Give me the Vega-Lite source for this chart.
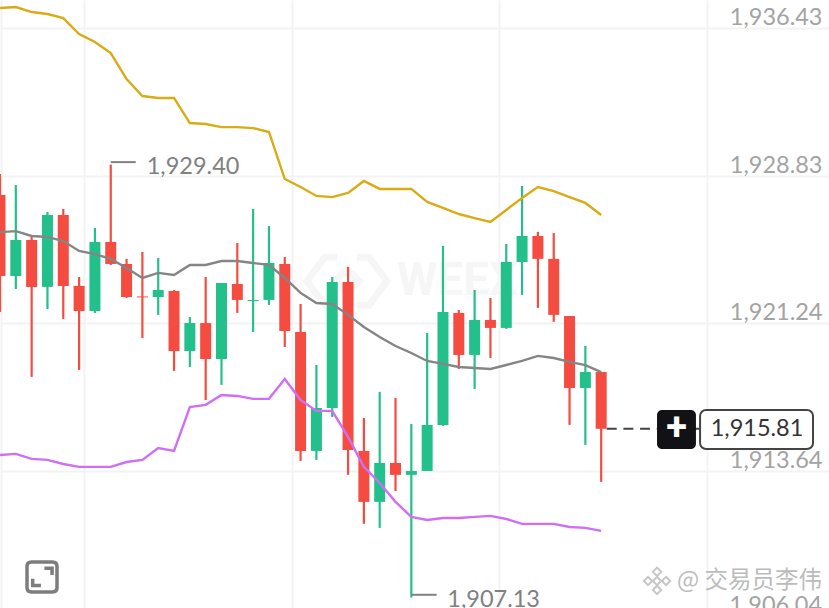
{
  "$schema": "https://vega.github.io/schema/vega-lite/v6.json",
  "width": 829,
  "height": 608,
  "padding": 0,
  "autosize": {"type": "none"},
  "background": "#ffffff",
  "config": {"view": {"stroke": null}, "axis": {"title": null}},
  "datasets": {
    "candles": [
      {"i":0,"open":1927.84,"high":1928.92,"low":1921.82,"close":1923.67,"side":"down"},
      {"i":1,"open":1923.67,"high":1928.35,"low":1923.00,"close":1925.52,"side":"up"},
      {"i":2,"open":1925.52,"high":1925.68,"low":1918.48,"close":1923.11,"side":"down"},
      {"i":3,"open":1923.11,"high":1926.96,"low":1921.97,"close":1926.81,"side":"up"},
      {"i":4,"open":1926.81,"high":1927.12,"low":1921.46,"close":1923.16,"side":"down"},
      {"i":5,"open":1923.16,"high":1923.62,"low":1918.84,"close":1921.87,"side":"down"},
      {"i":6,"open":1921.87,"high":1926.14,"low":1921.77,"close":1925.42,"side":"up"},
      {"i":7,"open":1925.42,"high":1929.40,"low":1924.24,"close":1924.29,"side":"down"},
      {"i":8,"open":1924.29,"high":1924.55,"low":1922.54,"close":1922.59,"side":"down"},
      {"i":9,"open":1922.62,"high":1924.91,"low":1920.48,"close":1922.57,"side":"down"},
      {"i":10,"open":1922.59,"high":1924.60,"low":1921.67,"close":1922.95,"side":"up"},
      {"i":11,"open":1922.90,"high":1922.95,"low":1918.79,"close":1919.81,"side":"down"},
      {"i":12,"open":1919.81,"high":1921.56,"low":1918.99,"close":1921.25,"side":"up"},
      {"i":13,"open":1921.25,"high":1923.62,"low":1917.29,"close":1919.40,"side":"down"},
      {"i":14,"open":1919.40,"high":1923.31,"low":1918.07,"close":1923.31,"side":"up"},
      {"i":15,"open":1923.26,"high":1925.37,"low":1921.77,"close":1922.44,"side":"down"},
      {"i":16,"open":1922.39,"high":1927.12,"low":1920.79,"close":1922.44,"side":"up"},
      {"i":17,"open":1922.44,"high":1926.24,"low":1922.18,"close":1924.34,"side":"up"},
      {"i":18,"open":1924.29,"high":1924.65,"low":1920.02,"close":1920.84,"side":"down"},
      {"i":19,"open":1920.79,"high":1922.23,"low":1914.16,"close":1914.67,"side":"down"},
      {"i":20,"open":1914.67,"high":1919.09,"low":1914.21,"close":1916.88,"side":"up"},
      {"i":21,"open":1916.88,"high":1923.62,"low":1916.42,"close":1923.36,"side":"up"},
      {"i":22,"open":1923.36,"high":1924.14,"low":1913.44,"close":1914.72,"side":"down"},
      {"i":23,"open":1914.67,"high":1916.37,"low":1910.92,"close":1912.05,"side":"down"},
      {"i":24,"open":1912.05,"high":1917.71,"low":1910.71,"close":1914.05,"side":"up"},
      {"i":25,"open":1914.05,"high":1917.40,"low":1912.61,"close":1913.44,"side":"down"},
      {"i":26,"open":1913.44,"high":1916.06,"low":1907.13,"close":1913.64,"side":"up"},
      {"i":27,"open":1913.64,"high":1920.74,"low":1913.64,"close":1916.01,"side":"up"},
      {"i":28,"open":1916.01,"high":1925.22,"low":1915.96,"close":1921.82,"side":"up"},
      {"i":29,"open":1921.77,"high":1921.92,"low":1918.89,"close":1919.61,"side":"down"},
      {"i":30,"open":1919.61,"high":1922.95,"low":1917.86,"close":1921.41,"side":"up"},
      {"i":31,"open":1921.41,"high":1922.54,"low":1919.45,"close":1921.00,"side":"down"},
      {"i":32,"open":1921.00,"high":1925.32,"low":1920.95,"close":1924.39,"side":"up"},
      {"i":33,"open":1924.39,"high":1928.30,"low":1922.70,"close":1925.73,"side":"up"},
      {"i":34,"open":1925.73,"high":1925.94,"low":1922.03,"close":1924.55,"side":"down"},
      {"i":35,"open":1924.55,"high":1925.88,"low":1921.31,"close":1921.67,"side":"down"},
      {"i":36,"open":1921.61,"high":1921.61,"low":1916.01,"close":1917.91,"side":"down"},
      {"i":37,"open":1917.91,"high":1920.07,"low":1914.98,"close":1918.73,"side":"up"},
      {"i":38,"open":1918.73,"high":1918.73,"low":1913.08,"close":1915.81,"side":"down"}
    ],
    "bands": [
      {"i":0,"upper":1937.46,"mid":1925.93,"lower":1914.46},
      {"i":1,"upper":1937.51,"mid":1925.98,"lower":1914.52},
      {"i":2,"upper":1937.25,"mid":1925.73,"lower":1914.26},
      {"i":3,"upper":1937.15,"mid":1925.68,"lower":1914.21},
      {"i":4,"upper":1936.94,"mid":1925.47,"lower":1914.00},
      {"i":5,"upper":1936.12,"mid":1924.96,"lower":1913.85},
      {"i":6,"upper":1935.71,"mid":1924.80,"lower":1913.85},
      {"i":7,"upper":1935.14,"mid":1924.55,"lower":1913.85},
      {"i":8,"upper":1933.80,"mid":1924.08,"lower":1914.10},
      {"i":9,"upper":1932.93,"mid":1923.57,"lower":1914.21},
      {"i":10,"upper":1932.83,"mid":1923.83,"lower":1914.82},
      {"i":11,"upper":1932.83,"mid":1923.72,"lower":1914.67},
      {"i":12,"upper":1931.54,"mid":1924.24,"lower":1916.93},
      {"i":13,"upper":1931.49,"mid":1924.24,"lower":1917.04},
      {"i":14,"upper":1931.33,"mid":1924.44,"lower":1917.55},
      {"i":15,"upper":1931.33,"mid":1924.44,"lower":1917.50},
      {"i":16,"upper":1931.28,"mid":1924.34,"lower":1917.35},
      {"i":17,"upper":1931.08,"mid":1924.24,"lower":1917.35},
      {"i":18,"upper":1928.66,"mid":1923.57,"lower":1918.37},
      {"i":19,"upper":1928.25,"mid":1922.80,"lower":1917.29},
      {"i":20,"upper":1927.79,"mid":1922.28,"lower":1916.73},
      {"i":21,"upper":1927.73,"mid":1922.23,"lower":1916.73},
      {"i":22,"upper":1927.94,"mid":1921.67,"lower":1915.39},
      {"i":23,"upper":1928.56,"mid":1921.05,"lower":1913.85},
      {"i":24,"upper":1928.15,"mid":1920.53,"lower":1913.02},
      {"i":25,"upper":1928.15,"mid":1920.07,"lower":1912.05},
      {"i":26,"upper":1928.15,"mid":1919.71,"lower":1911.28},
      {"i":27,"upper":1927.48,"mid":1919.30,"lower":1911.12},
      {"i":28,"upper":1927.17,"mid":1919.15,"lower":1911.22},
      {"i":29,"upper":1926.86,"mid":1918.99,"lower":1911.22},
      {"i":30,"upper":1926.65,"mid":1918.94,"lower":1911.28},
      {"i":31,"upper":1926.45,"mid":1918.89,"lower":1911.33},
      {"i":32,"upper":1927.07,"mid":1919.09,"lower":1911.17},
      {"i":33,"upper":1927.68,"mid":1919.30,"lower":1910.92},
      {"i":34,"upper":1928.25,"mid":1919.56,"lower":1910.92},
      {"i":35,"upper":1928.04,"mid":1919.45,"lower":1910.92},
      {"i":36,"upper":1927.73,"mid":1919.25,"lower":1910.76},
      {"i":37,"upper":1927.43,"mid":1919.09,"lower":1910.71},
      {"i":38,"upper":1926.81,"mid":1918.73,"lower":1910.56}
    ],
    "extremes": [
      {"i":7,"i2":8.58,"level":1929.53,"price":1929.40},
      {"i":26,"i2":27.6,"level":1907.27,"price":1907.13}
    ],
    "last": [
      {"i":38.35,"i2":44.25,"price":1915.81,"top":1916.78,"bottom":1914.77}
    ],
    "logo": [
      {"i":41.53,"price":1908.45},
      {"i":40.96,"price":1907.98},
      {"i":42.10,"price":1907.98},
      {"i":41.53,"price":1907.52},
      {"i":41.53,"price":1907.98}
    ]
  },
  "layer": [
    {
      "data": {"values": [{"i":25.1,"price":1923.4,"label":"WEEX"}]},
      "mark": {"type":"text","font":"Roboto","fontWeight":700,"fontSize":46,"align":"left","baseline":"middle","color":"#f6f6f6"},
      "encoding": {
        "x": {
          "field":"i","type":"quantitative",
          "scale":{"domain":[0,52.4],"nice":false,"zero":false,"padding":0},
          "axis":{"values":[0.05,5.31,18.46,31.54,44.67],"orient":"bottom","labels":false,"ticks":false,"domain":false,"grid":true,"gridColor":"#f3f3f3","gridWidth":2,"zindex":0}
        },
        "y": {
          "field":"price","type":"quantitative",
          "scale":{"domain":[1906.59,1937.87],"nice":false,"zero":false},
          "axis":{"values":[1913.64,1921.24,1928.83,1936.43],"orient":"right","format":",.2f","ticks":false,"domain":false,"grid":true,"gridColor":"#f3f3f3","gridWidth":2,"labelFont":"Lato","labelFontSize":23.5,"labelColor":"#a3a3a3","labelAlign":"right","labelBaseline":"middle","labelPadding":-7,"labelOffset":-10.5,"labelOverlap":false,"labelFlush":false,"labelBound":false,"zindex":0}
        },
        "text": {"field":"label"}
      }
    },
    {
      "data": {"values": [{"i":51.96,"price":1906.04}]},
      "mark": {"type":"text","font":"Lato","fontSize":23.5,"align":"right","baseline":"middle","dy":-13,"color":"#a3a3a3"},
      "encoding": {
        "x": {"field":"i","type":"quantitative"},
        "y": {"field":"price","type":"quantitative"},
        "text": {"field":"price","type":"quantitative","format":",.2f"}
      }
    },
    {
      "data": {"values": [{"i":21.93,"price":1923.4}]},
      "mark": {"type":"point","shape":"M-0.25,-0.6 L-0.55,-0.6 L-1,0 L-0.55,0.6 L-0.25,0.6 M0.25,-0.6 L0.55,-0.6 L1,0 L0.55,0.6 L0.25,0.6 M0,-0.3 L0.3,0 L0,0.3 L-0.3,0 Z","size":6400,"filled":false,"stroke":"#f6f6f6","strokeWidth":7,"opacity":1},
      "encoding": {
        "x": {"field":"i","type":"quantitative"},
        "y": {"field":"price","type":"quantitative"}
      }
    },
    {
      "data": {"name":"candles"},
      "mark": {"type":"rule","strokeWidth":2.2},
      "encoding": {
        "x": {"field":"i","type":"quantitative"},
        "y": {"field":"low","type":"quantitative"},
        "y2": {"field":"high"},
        "color": {"field":"side","type":"nominal","legend":null,"scale":{"domain":["up","down"],"range":["#23C08B","#F44C40"]}}
      }
    },
    {
      "data": {"name":"candles"},
      "mark": {"type":"bar","size":11},
      "encoding": {
        "x": {"field":"i","type":"quantitative"},
        "y": {"field":"open","type":"quantitative"},
        "y2": {"field":"close"},
        "color": {"field":"side","type":"nominal","legend":null}
      }
    },
    {
      "data": {"name":"bands"},
      "mark": {"type":"line","color":"#D9AB14","strokeWidth":2.4},
      "encoding": {
        "x": {"field":"i","type":"quantitative"},
        "y": {"field":"upper","type":"quantitative"}
      }
    },
    {
      "data": {"name":"bands"},
      "mark": {"type":"line","color":"#858585","strokeWidth":2.4},
      "encoding": {
        "x": {"field":"i","type":"quantitative"},
        "y": {"field":"mid","type":"quantitative"}
      }
    },
    {
      "data": {"name":"bands"},
      "mark": {"type":"line","color":"#CF6FF5","strokeWidth":2.4},
      "encoding": {
        "x": {"field":"i","type":"quantitative"},
        "y": {"field":"lower","type":"quantitative"}
      }
    },
    {
      "data": {"name":"extremes"},
      "mark": {"type":"rule","color":"#808080","strokeWidth":2},
      "encoding": {
        "x": {"field":"i","type":"quantitative"},
        "x2": {"field":"i2"},
        "y": {"field":"level","type":"quantitative"}
      }
    },
    {
      "data": {"name":"extremes"},
      "mark": {"type":"text","font":"Lato","fontSize":23.5,"align":"left","baseline":"middle","dx":36,"dy":2,"color":"#808080"},
      "encoding": {
        "x": {"field":"i","type":"quantitative"},
        "y": {"field":"price","type":"quantitative"},
        "text": {"field":"price","type":"quantitative","format":",.2f"}
      }
    },
    {
      "data": {"name":"last"},
      "mark": {"type":"rule","color":"#444444","strokeWidth":2,"strokeDash":[10,6.67]},
      "encoding": {
        "x": {"field":"i","type":"quantitative"},
        "x2": {"field":"i2"},
        "y": {"field":"price","type":"quantitative"}
      }
    },
    {
      "data": {"name":"last"},
      "mark": {"type":"rect","color":"#111116","cornerRadius":5},
      "encoding": {
        "x": {"datum":41.53,"type":"quantitative"},
        "x2": {"datum":43.99},
        "y": {"field":"top","type":"quantitative"},
        "y2": {"field":"bottom"}
      }
    },
    {
      "data": {"name":"last"},
      "mark": {"type":"rect","fill":"#ffffff","stroke":"#444444","strokeWidth":2,"cornerRadius":6},
      "encoding": {
        "x": {"datum":44.25,"type":"quantitative"},
        "x2": {"datum":51.39},
        "y": {"field":"top","type":"quantitative"},
        "y2": {"field":"bottom"}
      }
    },
    {
      "data": {"name":"last"},
      "mark": {"type":"text","font":"Roboto","fontWeight":700,"fontSize":38,"align":"center","baseline":"middle","color":"#ffffff"},
      "encoding": {
        "x": {"datum":42.76,"type":"quantitative"},
        "y": {"field":"price","type":"quantitative"},
        "text": {"value":"+"}
      }
    },
    {
      "data": {"name":"last"},
      "mark": {"type":"text","font":"Lato","fontSize":23.5,"align":"center","baseline":"middle","color":"#333333"},
      "encoding": {
        "x": {"datum":47.85,"type":"quantitative"},
        "y": {"field":"price","type":"quantitative"},
        "text": {"field":"price","type":"quantitative","format":",.2f"}
      }
    },
    {
      "data": {"values": [{"i":51.96,"price":1907.98,"label":"@ 交易员李伟"}]},
      "mark": {"type":"text","font":"Noto Sans CJK SC","fontSize":23.5,"align":"right","baseline":"middle","color":"#bcbcbc"},
      "encoding": {
        "x": {"field":"i","type":"quantitative"},
        "y": {"field":"price","type":"quantitative"},
        "text": {"field":"label"}
      }
    },
    {
      "data": {"name":"logo"},
      "mark": {"type":"point","shape":"diamond","size":70,"filled":false,"stroke":"#c6c6c6","strokeWidth":2,"opacity":1},
      "encoding": {
        "x": {"field":"i","type":"quantitative"},
        "y": {"field":"price","type":"quantitative"}
      }
    },
    {
      "data": {"values": [{"i":2.655,"price":1908.19}]},
      "mark": {"type":"point","shape":"M-0.7,-1 H0.7 Q1,-1 1,-0.7 V0.7 Q1,1 0.7,1 H-0.7 Q-1,1 -1,0.7 V-0.7 Q-1,-1 -0.7,-1 Z M0.16,-0.58 H0.67 V-0.13 M-0.07,0.58 H-0.62 V0.13","size":900,"filled":false,"stroke":"#7d7d7d","strokeWidth":3.5,"opacity":1},
      "encoding": {
        "x": {"field":"i","type":"quantitative"},
        "y": {"field":"price","type":"quantitative"}
      }
    }
  ]
}
